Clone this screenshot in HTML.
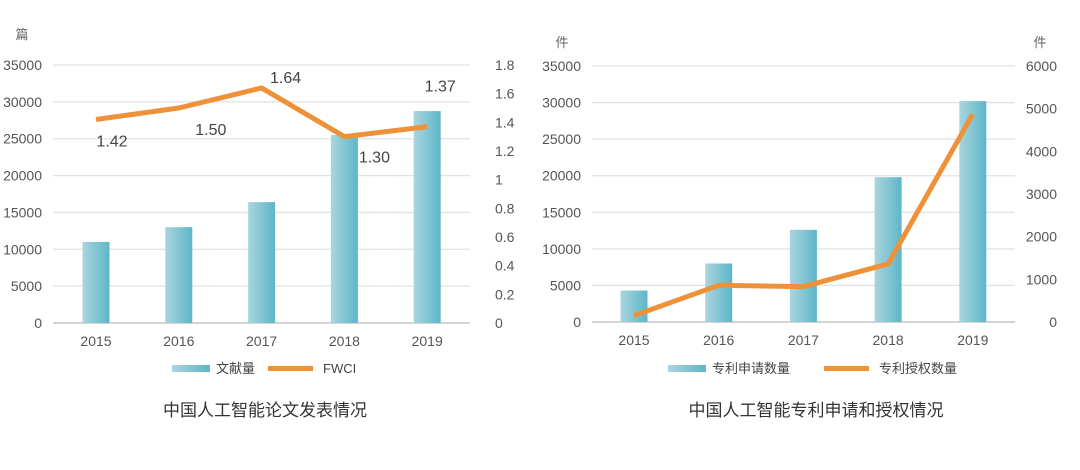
<!DOCTYPE html>
<html><head><meta charset="utf-8">
<style>
body{margin:0;background:#fff;}
svg{display:block;font-family:"Liberation Sans","Noto Sans CJK SC",sans-serif;}
</style></head>
<body>
<svg id="c" width="1080" height="470" viewBox="0 0 1080 470">
<defs>
<linearGradient id="bg" x1="0" x2="1" y1="0" y2="0">
<stop offset="0" stop-color="#a9d5de"/><stop offset="1" stop-color="#5db6c8"/>
</linearGradient>
</defs>
</svg>
<script>
const years=["2015","2016","2017","2018","2019"];
const papers=[11000,13000,16400,25500,28750];
const fwci=[1.42,1.50,1.64,1.30,1.37];
const fwciLabels=["1.42","1.50","1.64","1.30","1.37"];
const leftTicks=[0,5000,10000,15000,20000,25000,30000,35000];
const fwciTicks=["0","0.2","0.4","0.6","0.8","1","1.2","1.4","1.6","1.8"];
const patentApps=[4300,8000,12600,19800,30200];
const patentGrants=[150,860,830,1360,4870];
const grantTicks=[0,1000,2000,3000,4000,5000,6000];

const svg=document.getElementById('c');
const NS='http://www.w3.org/2000/svg';
function mk(tag,attrs,parent,text){const e=document.createElementNS(NS,tag);for(const k in attrs)e.setAttribute(k,attrs[k]);if(text!==undefined)e.textContent=text;(parent||svg).appendChild(e);return e;}

function chart(cfg){
  const g=mk('g',{});
  
  
  const y=v=>cfg.y0-(v/cfg.lmax)*(cfg.y0-cfg.y1);
  const yr=v=>cfg.y0-(v/cfg.rmax)*(cfg.y0-cfg.y1);
  const x=i=>cfg.cx0+i*cfg.step;
  leftTicks.forEach(t=>{
    const l=mk('line',{x1:cfg.gx0,x2:cfg.gx1,y1:y(t),y2:y(t),stroke:t===0?'#bbb':'#e2e2e2','stroke-width':1.3},g);
    
    
    const tx=mk('text',{x:cfg.lx,y:y(t)+5,'text-anchor':'end','font-size':14,fill:'#555'},g,String(t));
    
    
  });
  cfg.rticks.forEach((t,i)=>{
    const v=cfg.rvals[i];
    const tx=mk('text',{x:cfg.rx,y:yr(v)+5,'text-anchor':cfg.ranchor,'font-size':14,fill:'#555'},g,t);
    
    
  });
  cfg.bars.forEach((v,i)=>{
    const r=mk('rect',{x:x(i)-13.5,y:y(v),width:27,height:y(0)-y(v),fill:'url(#bg)'},g);
    
    
    const tx=mk('text',{x:x(i),y:cfg.y0+23,'text-anchor':'middle','font-size':14,fill:'#555'},g,years[i]);
    
    
  });
  const pts=cfg.line.map((v,i)=>x(i)+','+yr(v)).join(' ');
  const pl=mk('polyline',{points:pts,fill:'none',stroke:'#ef9138','stroke-width':5,'stroke-linejoin':'round'},g);
  
  
  return {g,x,yr};
}

const L=chart({name:'paper-chart',y0:323,y1:65,lmax:35000,rmax:1.8,cx0:96,step:82.8,gx0:53,gx1:470,lx:42,rx:495,ranchor:'start',
  rticks:fwciTicks,rvals:fwciTicks.map(Number),bars:papers,line:fwci});
const offs=[[16,22],[32,22],[24,-10],[30,21],[13,-40]];
fwci.forEach((v,i)=>{
  const tx=mk('text',{x:L.x(i)+offs[i][0],y:L.yr(v)+offs[i][1]+5,'text-anchor':'middle','font-size':16,fill:'#444'},L.g,fwciLabels[i]);
  
  
});
const u1=mk('text',{x:22,y:39,'text-anchor':'middle','font-size':13,fill:'#666'},L.g,'篇');



const R=chart({name:'patent-chart',y0:322,y1:66,lmax:35000,rmax:6000,cx0:634,step:84.7,gx0:592,gx1:1015,lx:581,rx:1057,ranchor:'end',
  rticks:grantTicks.map(String),rvals:grantTicks,bars:patentApps,line:patentGrants});
const u2=mk('text',{x:562,y:47,'text-anchor':'middle','font-size':13,fill:'#666'},R.g,'件');


const u3=mk('text',{x:1040,y:47,'text-anchor':'middle','font-size':13,fill:'#666'},R.g,'件');



function legend(x,label1,lx2,label2,name){
  const g=mk('g',{});
  
  
  const r=mk('rect',{x:x,y:365,width:38,height:7,fill:'url(#bg)'},g);
  
  
  const t1=mk('text',{x:x+44,y:373,'font-size':13,fill:'#444'},g,label1);
  
  
  const l=mk('line',{x1:lx2,x2:lx2+45,y1:368.5,y2:368.5,stroke:'#ef9138','stroke-width':5},g);
  
  
  const t2=mk('text',{x:lx2+55,y:373,'font-size':13,fill:'#444'},g,label2);
  
  
}
legend(172,'文献量',268,'FWCI','paper-legend');
legend(668,'专利申请数量',824,'专利授权数量','patent-legend');

const t1=mk('text',{x:265,y:416,'text-anchor':'middle','font-size':17,fill:'#333'},svg,'中国人工智能论文发表情况');


const t2=mk('text',{x:816,y:416,'text-anchor':'middle','font-size':17,fill:'#333'},svg,'中国人工智能专利申请和授权情况');


</script>
</body></html>
